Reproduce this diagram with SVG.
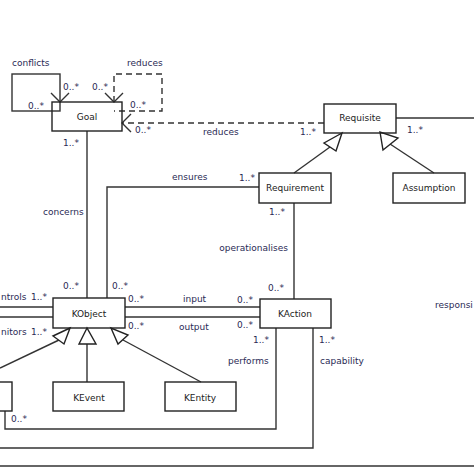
<svg xmlns="http://www.w3.org/2000/svg" width="474" height="474" viewBox="0 0 474 474">
<style>
.box{fill:none;stroke:#222;stroke-width:1.4}
.ln{fill:none;stroke:#333;stroke-width:1.4}
.dash{fill:none;stroke:#333;stroke-width:1.4;stroke-dasharray:6,4}
.tri{fill:#fff;stroke:#222;stroke-width:1.4}
.name{font-family:"DejaVu Sans",Verdana,sans-serif;font-size:9px;fill:#222;text-anchor:middle}
.lbl{font-family:"DejaVu Sans",Verdana,sans-serif;font-size:9px;fill:#2a2a55}
</style>
<rect width="474" height="474" fill="#fff"/>
<g id="connectors">
  <rect x="12" y="74" width="48" height="37" class="ln"/>
  <path d="M51,93 L60,102 L69,93" class="ln"/>
  <path d="M114,102 L114,74 L162,74 L162,111 L114,111" class="dash"/>
  <path d="M105,93 L114,102 L123,93" class="ln"/>
  <path d="M324,123 L122,123" class="dash"/>
  <path d="M131,114 L122,123 L131,132" class="ln"/>
  <path d="M396,118 L474,118" class="ln"/>
  <path d="M294,173 L330,147" class="ln"/>
  <polygon points="342,133 324,143 336,151" class="tri"/>
  <path d="M434,173 L390,144" class="ln"/>
  <polygon points="380,132 383,150 398,138" class="tri"/>
  <path d="M87,131 L87,298" class="ln"/>
  <path d="M259,187 L107,187 L107,298" class="ln"/>
  <path d="M294,203 L294,299" class="ln"/>
  <path d="M125,307 L260,307" class="ln"/>
  <path d="M125,317 L260,317" class="ln"/>
  <path d="M0,307 L53,307" class="ln"/>
  <path d="M0,317 L53,317" class="ln"/>
  <path d="M59,340 L0,368" class="ln"/>
  <polygon points="70,328 53,336 64,344" class="tri"/>
  <path d="M87,344 L87,382" class="ln"/>
  <polygon points="87,328 79,344 96,344" class="tri"/>
  <path d="M123,340 L201,382" class="ln"/>
  <polygon points="111,328 118,344 128,335" class="tri"/>
  <path d="M5,411 L5,429 L276,429 L276,328" class="ln"/>
  <path d="M313,328 L313,448 L0,448" class="ln"/>
  <path d="M0,466 L474,466" class="ln" stroke="#555"/>
</g>
<g id="goal"><rect x="52" y="102" width="70" height="29" class="box"/><text x="87" y="120" class="name">Goal</text></g>
<g id="requisite"><rect x="324" y="104" width="72" height="29" class="box"/><text x="360" y="121" class="name">Requisite</text></g>
<g id="requirement"><rect x="259" y="173" width="72" height="30" class="box"/><text x="295" y="191" class="name">Requirement</text></g>
<g id="assumption"><rect x="393" y="173" width="72" height="30" class="box"/><text x="429" y="191" class="name">Assumption</text></g>
<g id="kobject"><rect x="53" y="298" width="72" height="30" class="box"/><text x="89" y="317" class="name">KObject</text></g>
<g id="kaction"><rect x="260" y="299" width="71" height="29" class="box"/><text x="295" y="317" class="name">KAction</text></g>
<g id="agent"><rect x="-60" y="382" width="72" height="29" class="box"/></g>
<g id="kevent"><rect x="53" y="382" width="71" height="29" class="box"/><text x="89" y="401" class="name">KEvent</text></g>
<g id="kentity"><rect x="165" y="382" width="71" height="29" class="box"/><text x="200" y="401" class="name">KEntity</text></g>
<g id="labels">
  <text x="12" y="66" class="lbl">conflicts</text>
  <text x="63" y="90" class="lbl">0..*</text>
  <text x="28" y="109" class="lbl">0..*</text>
  <text x="127" y="66" class="lbl">reduces</text>
  <text x="92" y="90" class="lbl">0..*</text>
  <text x="130" y="108" class="lbl">0..*</text>
  <text x="135" y="133" class="lbl">0..*</text>
  <text x="203" y="135" class="lbl">reduces</text>
  <text x="300" y="135" class="lbl">1..*</text>
  <text x="407" y="133" class="lbl">1..*</text>
  <text x="63" y="146" class="lbl">1..*</text>
  <text x="172" y="180" class="lbl">ensures</text>
  <text x="239" y="181" class="lbl">1..*</text>
  <text x="43" y="215" class="lbl">concerns</text>
  <text x="269" y="215" class="lbl">1..*</text>
  <text x="288" y="251" class="lbl" text-anchor="end">operationalises</text>
  <text x="63" y="289" class="lbl">0..*</text>
  <text x="112" y="289" class="lbl">0..*</text>
  <text x="268" y="291" class="lbl">0..*</text>
  <text x="1" y="300" class="lbl">ntrols</text>
  <text x="31" y="300" class="lbl">1..*</text>
  <text x="128" y="302" class="lbl">0..*</text>
  <text x="183" y="302" class="lbl">input</text>
  <text x="237" y="303" class="lbl">0..*</text>
  <text x="435" y="308" class="lbl">responsi</text>
  <text x="1" y="335" class="lbl">nitors</text>
  <text x="31" y="335" class="lbl">1..*</text>
  <text x="128" y="329" class="lbl">0..*</text>
  <text x="179" y="330" class="lbl">output</text>
  <text x="237" y="328" class="lbl">0..*</text>
  <text x="253" y="343" class="lbl">1..*</text>
  <text x="319" y="343" class="lbl">1..*</text>
  <text x="228" y="364" class="lbl">performs</text>
  <text x="320" y="364" class="lbl">capability</text>
  <text x="11" y="422" class="lbl">0..*</text>
</g>
</svg>
